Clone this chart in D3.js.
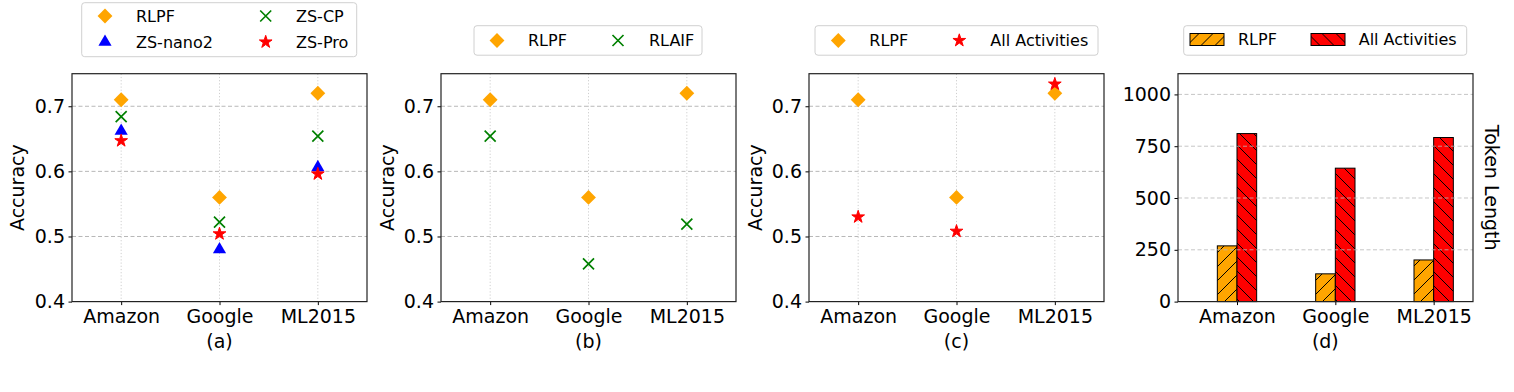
<!DOCTYPE html>
<html>
<head>
<meta charset="utf-8">
<script src="https://cdn.jsdelivr.net/npm/d3@7"></script>
<style>
  body { margin: 0; background: #fff; }
  text { font-family: "DejaVu Sans", sans-serif; fill: #000; }
</style>
</head>
<body>
<div id="wrapper"></div>
<script>
// data
const datasets = ["Amazon", "Google", "ML2015"];
const rlpf = [0.71, 0.56, 0.72];
const zsCp = [0.684, 0.522, 0.654];
const zsNano2 = [0.662, 0.480, 0.606];
const zsPro = [0.647, 0.504, 0.596];
const rlaif = [0.654, 0.458, 0.519];
const allActivities = [0.530, 0.508, 0.734];
const tokenRlpf = [269, 134, 201];
const tokenAll = [811, 644, 792];
const accTicks = [0.4, 0.5, 0.6, 0.7];
const tokenTicks = [0, 250, 500, 750, 1000];

const W = 1514, H = 392;
const plotTop = 73.7, plotBottom = 301.6;

const svg = d3.select("#wrapper").append("svg")
    .attr("width", W).attr("height", H);

const defs = svg.append("defs");
function hatch(id, fill, dir) {
    const p = defs.append("pattern")
        .attr("id", id).attr("patternUnits", "userSpaceOnUse")
        .attr("width", 14).attr("height", 14);
    p.append("rect").attr("width", 14).attr("height", 14).attr("fill", fill);
    const d = dir > 0
        ? "M-2,16 L16,-2 M-9,9 L9,-9 M5,23 L23,5"
        : "M-2,-2 L16,16 M-9,5 L9,23 M5,-9 L23,9";
    p.append("path").attr("d", d).attr("stroke", "#000").attr("stroke-width", 1);
}
hatch("hatchR", "orange", 1);
hatch("hatchA", "red", -1);

// marker drawers
const markers = {
    diamond: (g, color) => g.append("path")
        .attr("d", d3.symbol(d3.symbolSquare, 110)())
        .attr("transform", "rotate(45)")
        .attr("fill", color),
    triangle: (g, color) => g.append("path")
        .attr("d", d3.symbol(d3.symbolTriangle, 75)())
        .attr("fill", color),
    cross: (g, color) => g.append("path")
        .attr("d", "M-5.5,-5.5L5.5,5.5M-5.5,5.5L5.5,-5.5")
        .attr("stroke", color).attr("stroke-width", 1.7).attr("fill", "none"),
    star: (g, color) => g.append("path")
        .attr("d", d3.symbol(d3.symbolStar, 50)())
        .attr("fill", color).attr("stroke", color).attr("stroke-width", 1)
};

function frame(left, right) {
    const g = svg.append("g");
    g.append("rect")
        .attr("x", left).attr("y", plotTop)
        .attr("width", right - left).attr("height", plotBottom - plotTop)
        .attr("fill", "none").attr("stroke", "#222").attr("stroke-width", 1.2);
    return g;
}

function legend(x0, y0, w, h, items) {
    const g = svg.append("g");
    g.append("rect").attr("x", x0).attr("y", y0).attr("width", w).attr("height", h)
        .attr("rx", 3).attr("fill", "#fff").attr("stroke", "#d0d0d0");
    items.forEach(it => {
        const m = g.append("g").attr("transform", `translate(${it.mx},${it.y})`);
        if (it.patch) {
            m.append("rect").attr("x", -17).attr("y", -6).attr("width", 34).attr("height", 12)
                .attr("fill", `url(#${it.patch})`).attr("stroke", "#000").attr("stroke-width", 1);
        } else {
            markers[it.shape](m, it.color);
        }
        g.append("text").attr("x", it.tx).attr("y", it.y).attr("dy", "0.36em")
            .style("font-size", "16px").text(it.label);
    });
}

function scatterPanel(left, right, label, series, ylabX) {
    const x = d3.scaleLinear().domain([-0.5, 2.5]).range([left, right]);
    const y = d3.scaleLinear().domain([0.4, 0.75]).range([plotBottom, plotTop]);
    const g = svg.append("g");

    // grid
    g.selectAll(".hg").data(accTicks.slice(1)).join("line")
        .attr("x1", left).attr("x2", right)
        .attr("y1", d => y(d)).attr("y2", d => y(d))
        .attr("stroke", "#b8b8b8").attr("stroke-dasharray", "4,2.5");
    g.selectAll(".vg").data(datasets).join("line")
        .attr("x1", (d, i) => x(i)).attr("x2", (d, i) => x(i))
        .attr("y1", plotTop).attr("y2", plotBottom)
        .attr("stroke", "#cfcfcf").attr("stroke-dasharray", "1.2,2");

    // axes
    const yAxis = d3.axisLeft(y).tickValues(accTicks).tickFormat(d3.format(".1f"))
        .tickSize(3.5).tickPadding(3.5);
    g.append("g").attr("transform", `translate(${left},0)`).call(yAxis)
        .call(a => a.select(".domain").remove())
        .call(a => a.selectAll("text").style("font-size", "19px").attr("fill", "#000"));
    const xAxis = d3.axisBottom(x).tickValues([0, 1, 2]).tickFormat(i => datasets[i])
        .tickSize(3.5).tickPadding(4);
    g.append("g").attr("transform", `translate(0,${plotBottom})`).call(xAxis)
        .call(a => a.select(".domain").remove())
        .call(a => a.selectAll("text").style("font-size", "19px").attr("fill", "#000"));

    // points
    series.forEach(s => {
        s.values.forEach((v, i) => {
            const m = g.append("g").attr("transform", `translate(${x(i)},${y(v)})`);
            markers[s.shape](m, s.color);
        });
    });

    frame(left, right);

    svg.append("text").attr("x", x(1)).attr("y", 341.5).attr("dy", "0.36em")
        .attr("text-anchor", "middle").style("font-size", "19px").text(label);
    svg.append("text")
        .attr("transform", `translate(${ylabX},${(plotTop + plotBottom) / 2}) rotate(-90)`)
        .attr("text-anchor", "middle").attr("dy", "0.36em")
        .style("font-size", "19px").text("Accuracy");
}

// (a)
scatterPanel(72, 367, "(a)", [
    { values: rlpf, shape: "diamond", color: "orange" },
    { values: zsCp, shape: "cross", color: "green" },
    { values: zsNano2, shape: "triangle", color: "blue" },
    { values: zsPro, shape: "star", color: "red" }
], 17);
legend(81.7, 2.7, 275, 54, [
    { shape: "diamond", color: "orange", label: "RLPF", mx: 105, tx: 136, y: 16 },
    { shape: "cross", color: "green", label: "ZS-CP", mx: 265.7, tx: 296, y: 16 },
    { shape: "triangle", color: "blue", label: "ZS-nano2", mx: 105, tx: 136, y: 42 },
    { shape: "star", color: "red", label: "ZS-Pro", mx: 265.7, tx: 296, y: 42 }
]);

// (b)
scatterPanel(441, 736, "(b)", [
    { values: rlpf, shape: "diamond", color: "orange" },
    { values: rlaif, shape: "cross", color: "green" }
], 387);
legend(474, 25.7, 228, 29.5, [
    { shape: "diamond", color: "orange", label: "RLPF", mx: 497, tx: 528, y: 40.5 },
    { shape: "cross", color: "green", label: "RLAIF", mx: 618, tx: 649, y: 40.5 }
]);

// (c)
scatterPanel(809, 1104, "(c)", [
    { values: rlpf, shape: "diamond", color: "orange" },
    { values: allActivities, shape: "star", color: "red" }
], 755.5);
legend(815, 25.7, 283, 29.5, [
    { shape: "diamond", color: "orange", label: "RLPF", mx: 838.3, tx: 869.3, y: 40.5 },
    { shape: "star", color: "red", label: "All Activities", mx: 959.3, tx: 990.3, y: 40.5 }
]);

// (d) token length bars
(function () {
    const left = 1178, right = 1473;
    const x = d3.scaleLinear().domain([-0.6, 2.4]).range([left, right]);
    const y = d3.scaleLinear().domain([0, 1100]).range([plotBottom, plotTop]);
    const bw = 0.2;
    const g = svg.append("g");

    const yAxis = d3.axisLeft(y).tickValues(tokenTicks).tickFormat(d3.format("d"))
        .tickSize(3.5).tickPadding(3.5);
    g.append("g").attr("transform", `translate(${left},0)`).call(yAxis)
        .call(a => a.select(".domain").remove())
        .call(a => a.selectAll("text").style("font-size", "19px").attr("fill", "#000"));
    const xAxis = d3.axisBottom(x).tickValues([0, 1, 2]).tickFormat(i => datasets[i])
        .tickSize(3.5).tickPadding(4);
    g.append("g").attr("transform", `translate(0,${plotBottom})`).call(xAxis)
        .call(a => a.select(".domain").remove())
        .call(a => a.selectAll("text").style("font-size", "19px").attr("fill", "#000"));

    g.selectAll(".br").data(tokenRlpf).join("rect")
        .attr("x", (d, i) => x(i - bw)).attr("width", x(bw) - x(0))
        .attr("y", d => y(d)).attr("height", d => y(0) - y(d))
        .attr("fill", "url(#hatchR)").attr("stroke", "#000").attr("stroke-width", 1);
    g.selectAll(".ba").data(tokenAll).join("rect")
        .attr("x", (d, i) => x(i)).attr("width", x(bw) - x(0))
        .attr("y", d => y(d)).attr("height", d => y(0) - y(d))
        .attr("fill", "url(#hatchA)").attr("stroke", "#000").attr("stroke-width", 1);

    // grid drawn over the bars, light
    g.selectAll(".hg").data(tokenTicks.slice(1)).join("line")
        .attr("x1", left).attr("x2", right)
        .attr("y1", d => y(d)).attr("y2", d => y(d))
        .attr("stroke", "#b8b8b8").attr("stroke-opacity", 0.8)
        .attr("stroke-dasharray", "4,2.5");

    frame(left, right);

    svg.append("text").attr("x", x(1) - 10).attr("y", 341.5).attr("dy", "0.36em")
        .attr("text-anchor", "middle").style("font-size", "19px").text("(d)");
    svg.append("text")
        .attr("transform", `translate(1491.5,${(plotTop + plotBottom) / 2}) rotate(90)`)
        .attr("text-anchor", "middle").attr("dy", "0.36em")
        .style("font-size", "19px").text("Token Length");

    legend(1183.7, 25.7, 283, 29.5, [
        { patch: "hatchR", label: "RLPF", mx: 1207, tx: 1238, y: 39.5 },
        { patch: "hatchA", label: "All Activities", mx: 1328, tx: 1358.7, y: 39.5 }
    ]);
})();
</script>
</body>
</html>
